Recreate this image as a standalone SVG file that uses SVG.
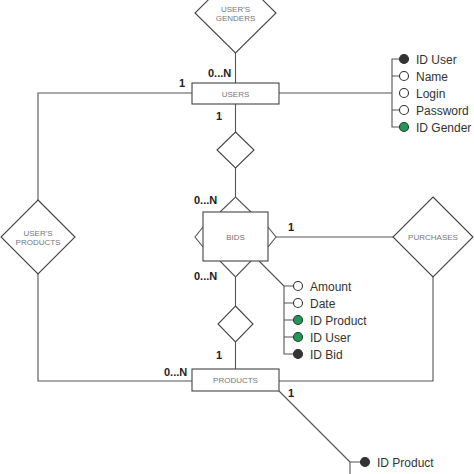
<svg xmlns="http://www.w3.org/2000/svg" width="474" height="474" viewBox="0 0 474 474">
<style>
.sh{fill:#fff;stroke:#444;stroke-width:1.1}
.ln{fill:none;stroke:#555;stroke-width:1.1}
.en{font-family:"Liberation Sans",Arial,sans-serif;font-size:8px;fill:#777;text-anchor:middle}
.cd{font-family:"Liberation Sans",Arial,sans-serif;font-size:11px;font-weight:bold;fill:#222}
.at{font-family:"Liberation Sans",Arial,sans-serif;font-size:12px;fill:#333}
.ow{fill:#fff;stroke:#333;stroke-width:1.1}
.ok{fill:#333;stroke:#333;stroke-width:1.1}
.og{fill:#1f9a55;stroke:#333;stroke-width:1.1}
</style>
<rect width="474" height="474" fill="#fff"/>
<g id="connectors">
<path class="ln" d="M235.5 53V83"/>
<path class="ln" d="M192 93H38V200"/>
<path class="ln" d="M38 274V381H192"/>
<path class="ln" d="M279 93H392"/>
<path class="ln" d="M235.5 104V132"/>
<path class="ln" d="M235.5 168V197"/>
<path class="ln" d="M220 212L235.5 197L251 212"/>
<path class="ln" d="M220 261L235.5 277L251 261"/>
<path class="ln" d="M203 227L195 237L203 247"/>
<path class="ln" d="M268 227L276 237L268 247"/>
<path class="ln" d="M276 237H393"/>
<path class="ln" d="M235.5 277V306"/>
<path class="ln" d="M235.5 342V369"/>
<path class="ln" d="M433 277V381H279"/>
<path class="ln" d="M259 261L284 286"/>
<path class="ln" d="M279 391L350 462"/>
</g>
<g id="genders">
<polygon class="sh" points="235.5,-27 276,13 235.5,53 195,13"/>
<text class="en" x="235.5" y="12">USER'S</text>
<text class="en" x="235.5" y="21">GENDERS</text>
</g>
<g id="users">
<rect class="sh" x="192" y="83" width="87" height="21"/>
<text class="en" x="235.5" y="96.5">USERS</text>
</g>
<g id="users-bids">
<polygon class="sh" points="235.5,132 254,150 235.5,168 217,150"/>
</g>
<g id="bids">
<rect class="sh" x="203" y="212" width="65" height="49"/>
<text class="en" x="235.5" y="240">BIDS</text>
</g>
<g id="bids-products">
<polygon class="sh" points="235.5,306 253,324 235.5,342 218,324"/>
</g>
<g id="products">
<rect class="sh" x="192" y="369" width="87" height="22"/>
<text class="en" x="235.5" y="383">PRODUCTS</text>
</g>
<g id="user-products">
<polygon class="sh" points="38,200 75,237 38,274 1,237"/>
<text class="en" x="38" y="236">USER'S</text>
<text class="en" x="38" y="245">PRODUCTS</text>
</g>
<g id="purchases">
<polygon class="sh" points="433,197 473,237 433,277 393,237"/>
<text class="en" x="433" y="240">PURCHASES</text>
</g>
<g id="cardinalities">
<text class="cd" x="182" y="87" text-anchor="middle">1</text>
<text class="cd" x="208" y="77">0...N</text>
<text class="cd" x="219" y="120" text-anchor="middle">1</text>
<text class="cd" x="194" y="204">0...N</text>
<text class="cd" x="194" y="280">0...N</text>
<text class="cd" x="291" y="231" text-anchor="middle">1</text>
<text class="cd" x="219" y="359" text-anchor="middle">1</text>
<text class="cd" x="164" y="376">0...N</text>
<text class="cd" x="291" y="397" text-anchor="middle">1</text>
</g>
<g id="user-attributes">
<path class="ln" d="M404 59H392V127H404M392 76H404M392 110H404"/>
<circle class="ok" cx="404" cy="59" r="4.5"/>
<circle class="ow" cx="404" cy="76" r="4.5"/>
<circle class="ow" cx="404" cy="93" r="4.5"/>
<circle class="ow" cx="404" cy="110" r="4.5"/>
<circle class="og" cx="404" cy="127" r="4.5"/>
<text class="at" x="416" y="63.5">ID User</text>
<text class="at" x="416" y="80.5">Name</text>
<text class="at" x="416" y="97.5">Login</text>
<text class="at" x="416" y="114.5">Password</text>
<text class="at" x="416" y="131.5">ID Gender</text>
</g>
<g id="bid-attributes">
<path class="ln" d="M284 286V354H298M284 286H298M284 303H298M284 320H298M284 337H298"/>
<circle class="ow" cx="298" cy="286" r="4.5"/>
<circle class="ow" cx="298" cy="303" r="4.5"/>
<circle class="og" cx="298" cy="320" r="4.5"/>
<circle class="og" cx="298" cy="337" r="4.5"/>
<circle class="ok" cx="298" cy="354" r="4.5"/>
<text class="at" x="310" y="290.5">Amount</text>
<text class="at" x="310" y="307.5">Date</text>
<text class="at" x="310" y="324.5">ID Product</text>
<text class="at" x="310" y="341.5">ID User</text>
<text class="at" x="310" y="358.5">ID Bid</text>
</g>
<g id="product-attributes">
<path class="ln" d="M350 462V474M350 462H365"/>
<circle class="ok" cx="365" cy="462" r="4.5"/>
<text class="at" x="377" y="466.5">ID Product</text>
</g>
</svg>
